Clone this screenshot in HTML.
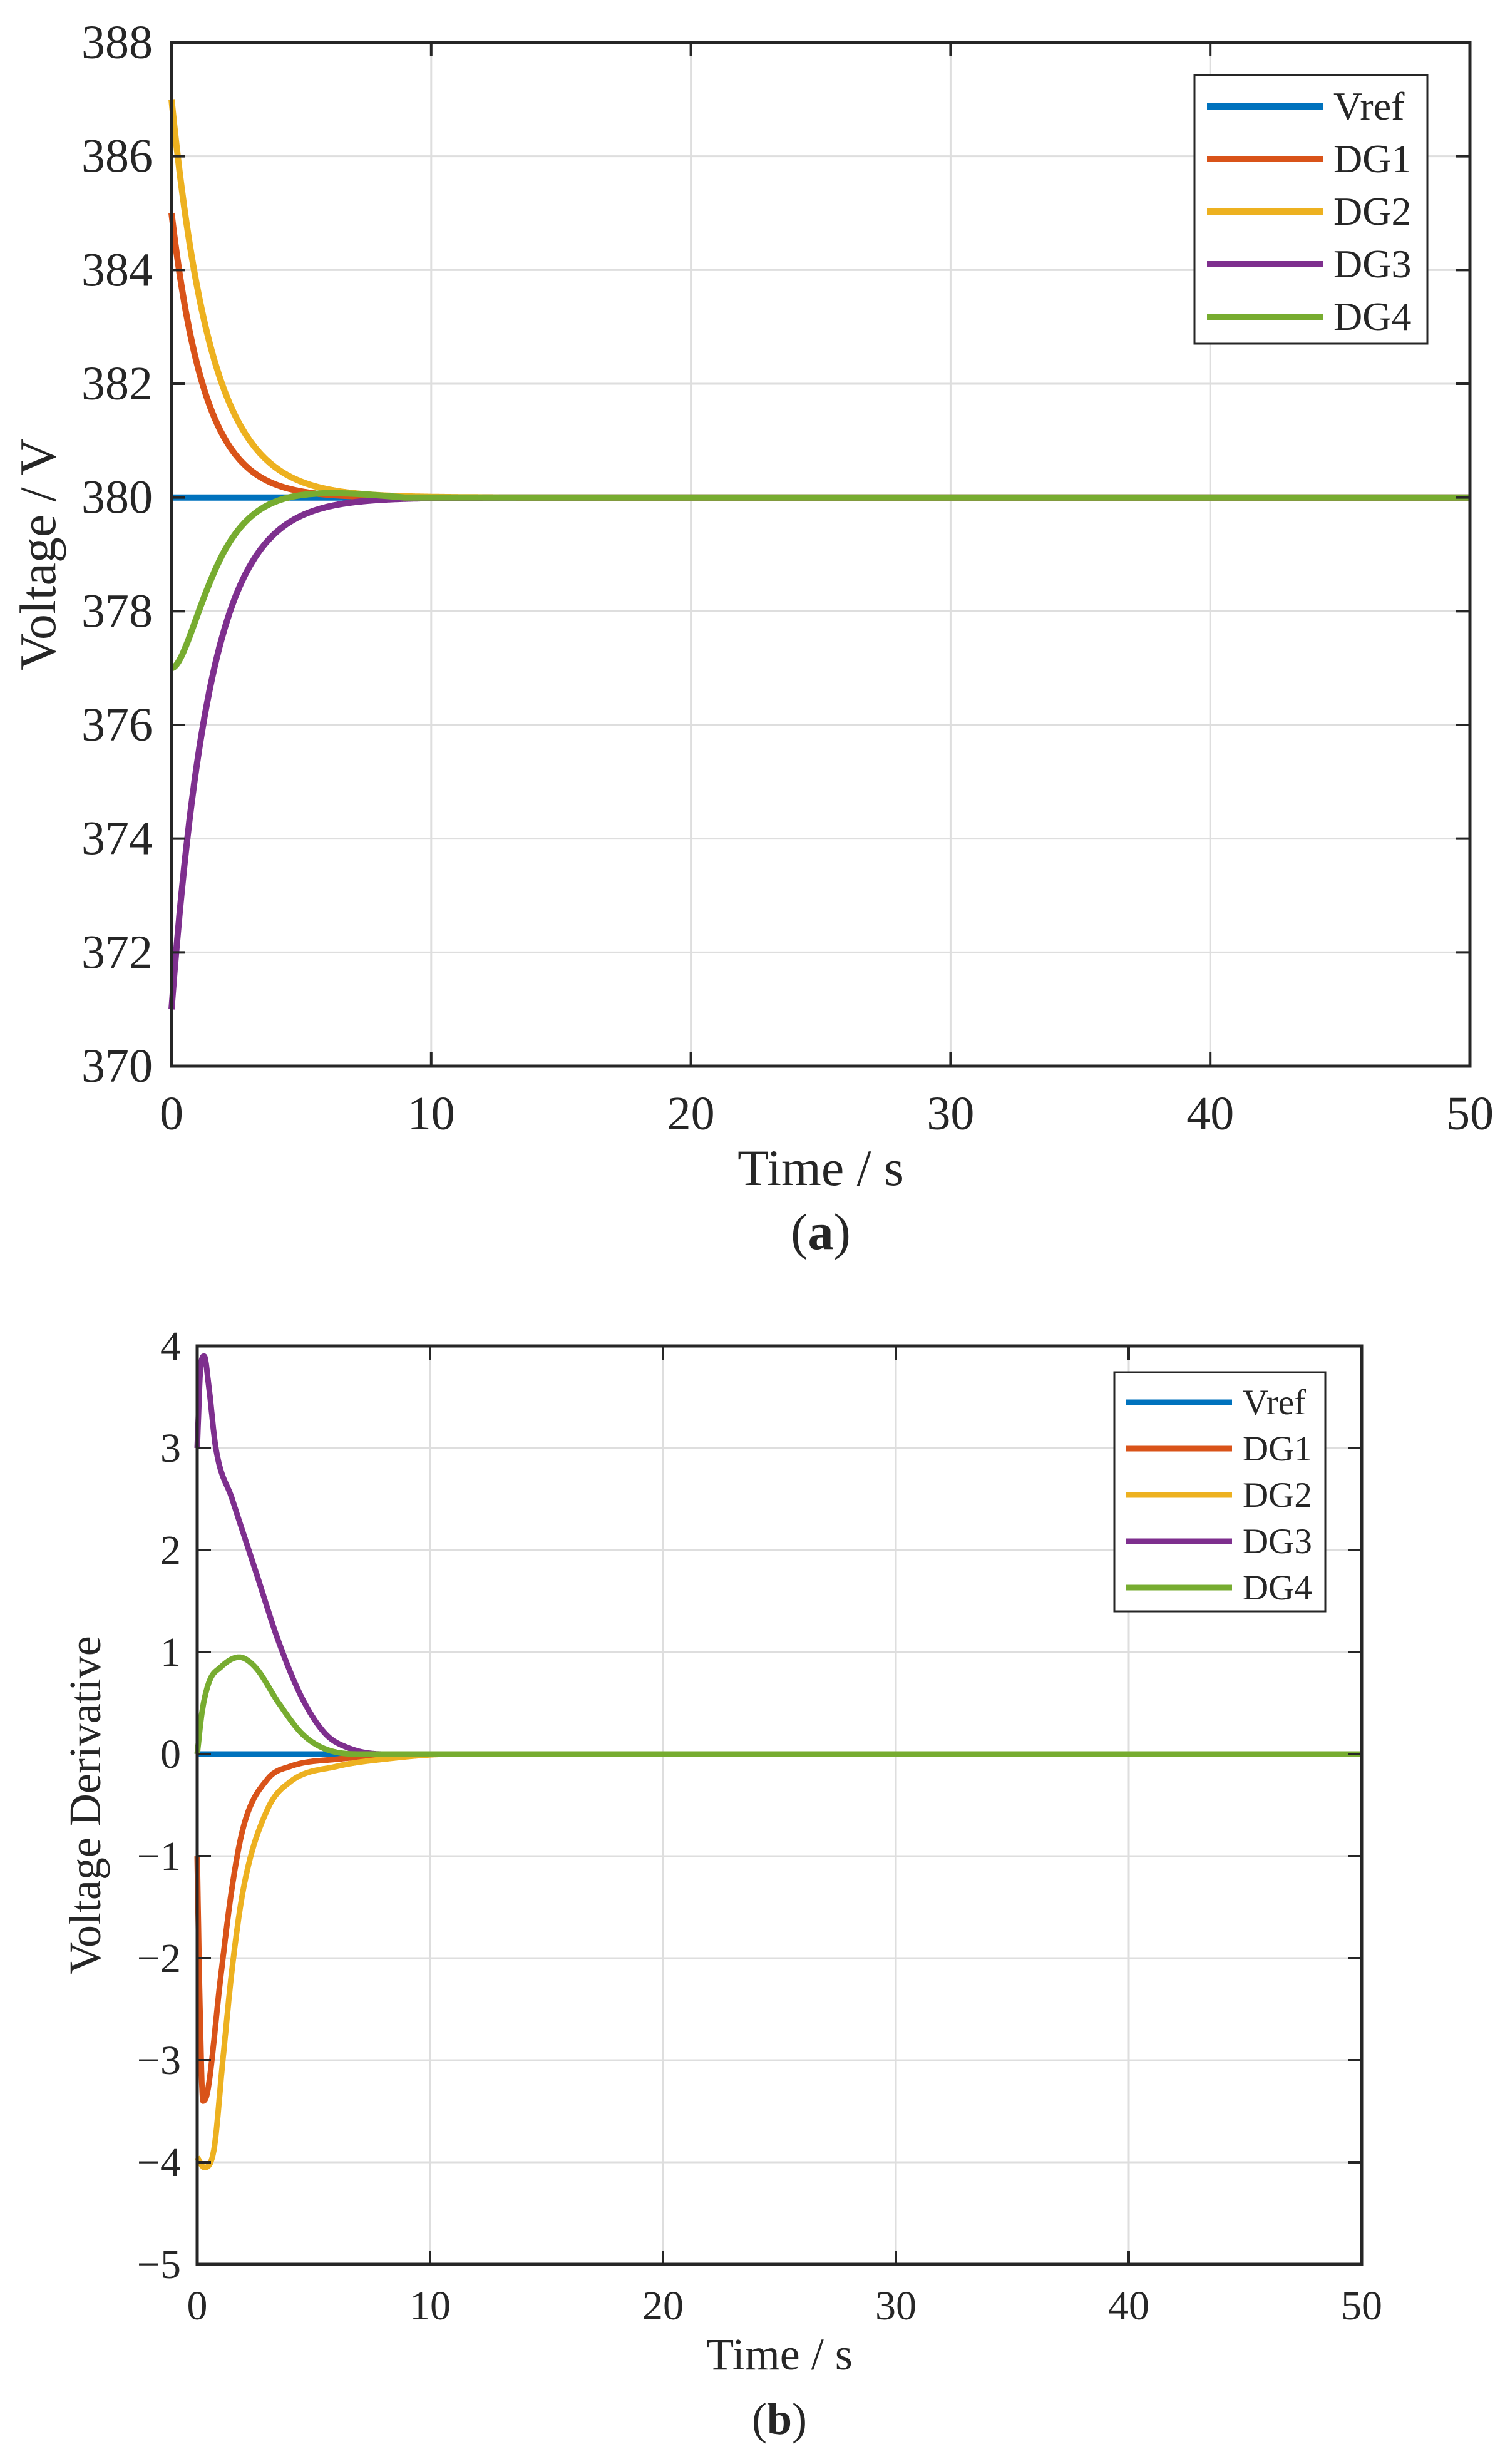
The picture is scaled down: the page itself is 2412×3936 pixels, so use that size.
<!DOCTYPE html>
<html><head><meta charset="utf-8"><style>html,body{margin:0;padding:0;background:#fff}svg{display:block}text{font-family:"Liberation Serif",serif;fill:#262626}</style></head>
<body>
<svg id="s" width="2412" height="3936" viewBox="0 0 2412 3936" xmlns="http://www.w3.org/2000/svg">
</svg>
<script>
const S=document.getElementById('s');const NS="http://www.w3.org/2000/svg";
function el(t,at,txt){const e=document.createElementNS(NS,t);for(const k in at)e.setAttribute(k,at[k]);if(txt!==undefined)e.textContent=txt;S.appendChild(e);return e;}
const C={vref:'#0072BD',dg1:'#D95319',dg2:'#EDB120',dg3:'#7E2F8E',dg4:'#77AC30'};
function plot(o){
 const {L,R,T,B,ymin,ymax,yticks,fs,lw}=o;
 const X=t=>L+(R-L)*t/50, Y=v=>B-(B-T)*(v-ymin)/(ymax-ymin);
 for(let t=10;t<50;t+=10)el('line',{x1:X(t),x2:X(t),y1:T,y2:B,stroke:'#dedede','stroke-width':3});
 yticks.forEach(v=>{if(v>ymin&&v<ymax)el('line',{x1:L,x2:R,y1:Y(v),y2:Y(v),stroke:'#dedede','stroke-width':3});});
 o.series.forEach(s=>{let d='';for(let i=0;i<=3000;i++){const t=i*50/3000;const v=s.f(t);d+=(i?'L':'M')+X(t).toFixed(1)+' '+Y(v).toFixed(1);}
  el('path',{d:d,fill:'none',stroke:s.c,'stroke-width':lw,'stroke-linejoin':'round'});});
 el('rect',{x:L,y:T,width:R-L,height:B-T,fill:'none',stroke:'#262626','stroke-width':5});
 for(let t=0;t<=50;t+=10){el('line',{x1:X(t),x2:X(t),y1:B,y2:B-22,stroke:'#262626','stroke-width':4});el('line',{x1:X(t),x2:X(t),y1:T,y2:T+22,stroke:'#262626','stroke-width':4});
  el('text',{x:X(t),y:o.xlY,'font-size':fs,'text-anchor':'middle'},String(t));}
 yticks.forEach(v=>{el('line',{x1:L,x2:L+22,y1:Y(v),y2:Y(v),stroke:'#262626','stroke-width':4});el('line',{x1:R,x2:R-22,y1:Y(v),y2:Y(v),stroke:'#262626','stroke-width':4});
  el('text',{x:o.ylX,y:Y(v)+fs*0.33,'font-size':fs,'text-anchor':'end'},v<0?'\u2212'+(-v):String(v));});
 el('text',{x:(L+R)/2,y:o.xtY,'font-size':o.tfs,'text-anchor':'middle'},'Time / s');
 el('text',{x:o.ytX,y:(T+B)/2,'font-size':o.tfs,'text-anchor':'middle',transform:`rotate(-90 ${o.ytX} ${(T+B)/2})`},o.ytitle);
 const cp=el('text',{x:(L+R)/2,y:o.capY,'font-size':o.tfs,'text-anchor':'middle'});cp.innerHTML='(<tspan font-weight="bold">'+o.cap+'</tspan>)';
 const g=o.leg;el('rect',{x:g.x1,y:g.y1,width:g.x2-g.x1,height:g.y2-g.y1,fill:'#fff',stroke:'#262626','stroke-width':3});
 ['Vref','DG1','DG2','DG3','DG4'].forEach((n,i)=>{const y=g.ys[i];el('line',{x1:g.l1,x2:g.l2,y1:y,y2:y,stroke:[C.vref,C.dg1,C.dg2,C.dg3,C.dg4][i],'stroke-width':lw});
  el('text',{x:g.tx,y:y+g.fs*0.33,'font-size':g.fs},n);});
}
function interp(p){const n=p.length,m=[];const d=[];for(let i=0;i<n-1;i++)d.push((p[i+1][1]-p[i][1])/(p[i+1][0]-p[i][0]));
 m[0]=d[0];m[n-1]=d[n-2];for(let i=1;i<n-1;i++){m[i]=(d[i-1]*d[i]<=0)?0:(d[i-1]+d[i])/2;}
 for(let i=0;i<n-1;i++){if(d[i]===0){m[i]=0;m[i+1]=0;continue;}const a=m[i]/d[i],b=m[i+1]/d[i],s=a*a+b*b;if(s>9){const t=3/Math.sqrt(s);m[i]=t*a*d[i];m[i+1]=t*b*d[i];}}
 return t=>{if(t<=p[0][0])return p[0][1];for(let i=0;i<n-1;i++){if(t<=p[i+1][0]){const h=p[i+1][0]-p[i][0],u=(t-p[i][0])/h;const h00=2*u*u*u-3*u*u+1,h10=u*u*u-2*u*u+u,h01=-2*u*u*u+3*u*u,h11=u*u*u-u*u;return h00*p[i][1]+h10*h*m[i]+h01*p[i+1][1]+h11*h*m[i+1];}}return p[n-1][1];};}
plot({L:274,R:2348,T:68,B:1703,ymin:370,ymax:388,yticks:[370,372,374,376,378,380,382,384,386,388],fs:76,lw:10,
 xlY:1804,ylX:244,xtY:1893,ytX:88,ytitle:'Voltage / V',tfs:82,capY:1995,cap:'a',
 series:[{c:C.vref,f:t=>380},
  {c:C.dg1,f:t=>380+5*Math.exp(-t/1.3)},
  {c:C.dg2,f:t=>380+7*Math.exp(-t/1.55)},
  {c:C.dg3,f:t=>380-9*Math.exp(-t/1.5)},
  {c:C.dg4,f:t=>{const tt=t/0.9;return 380-3*(1+tt)*Math.exp(-tt)+0.12*Math.sin(Math.min(t,9)/9*Math.PI)*(t>2?1:t/2);}}],
 leg:{x1:1908,y1:120,x2:2280,y2:549,l1:1928,l2:2113,tx:2130,fs:64,ys:[170,254,338,422,506]}});
plot({L:315,R:2175,T:2150,B:3617,ymin:-5,ymax:4,yticks:[-5,-4,-3,-2,-1,0,1,2,3,4],fs:66,lw:9,
 xlY:3705,ylX:289,xtY:3785,ytX:160,ytitle:'Voltage Derivative',tfs:72,capY:3888,cap:'b',
 series:[{c:C.vref,f:t=>0},
  {c:C.dg1,f:interp([[0,-1],[0.1,-2.3],[0.25,-3.4],[0.45,-3.3],[1,-2.2],[1.5,-1.3],[2,-0.7],[3,-0.25],[4,-0.12],[6,-0.05],[10,0],[50,0]])},
  {c:C.dg2,f:interp([[0,-3.95],[0.3,-4.05],[0.7,-3.9],[1.1,-3],[1.5,-2.1],[2,-1.3],[3,-0.55],[4,-0.27],[6,-0.12],[8,-0.05],[11,0],[50,0]])},
  {c:C.dg3,f:interp([[0,3],[0.15,3.8],[0.3,3.9],[0.5,3.6],[0.8,3.0],[1.5,2.5],[2.5,1.8],[3.5,1.1],[4.5,0.55],[5.5,0.2],[6.5,0.06],[8,0],[50,0]])},
  {c:C.dg4,f:interp([[0,0],[0.2,0.4],[0.5,0.7],[1,0.85],[1.8,0.95],[2.5,0.85],[3.5,0.5],[4.5,0.2],[5.5,0.05],[7,0],[50,0]])}],
 leg:{x1:1780,y1:2192,x2:2117,y2:2574,l1:1798,l2:1968,tx:1985,fs:57,ys:[2240,2314,2388,2462,2536]}});
</script>
</body></html>
